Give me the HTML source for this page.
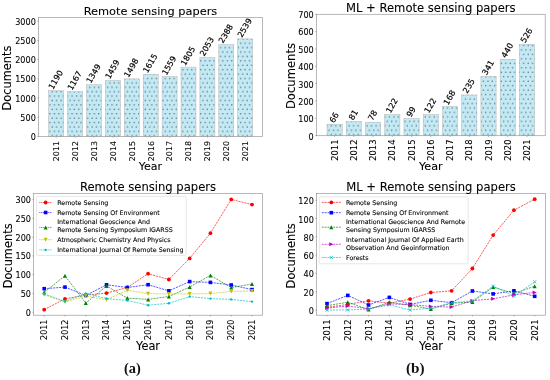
<!DOCTYPE html>
<html><head><meta charset="utf-8"><title>Figure</title>
<style>html,body{margin:0;padding:0;background:#fff}svg{display:block}</style></head><body>
<svg width="550" height="380" viewBox="0 0 550 380" font-family="DejaVu Sans, Liberation Sans, sans-serif">
<rect width="550" height="380" fill="#fff"/>
<defs>
<pattern id="hatch0" x="51.09" y="89.5" width="4.433" height="8.81" patternUnits="userSpaceOnUse"><circle cx="1.108" cy="2.203" r="0.75" fill="#5a717a"/><circle cx="3.325" cy="6.607" r="0.75" fill="#5a717a"/></pattern>
<pattern id="hatch1" x="522.58" y="43.27" width="4.475" height="8.922" patternUnits="userSpaceOnUse"><circle cx="1.119" cy="2.231" r="0.75" fill="#5a717a"/><circle cx="3.356" cy="6.692" r="0.75" fill="#5a717a"/></pattern>
</defs>
<rect x="48.70" y="90.74" width="15.00" height="45.76" fill="#c2e9f4"/>
<rect x="48.70" y="90.74" width="15.00" height="45.76" fill="url(#hatch0)" stroke="#b4b4b4" stroke-width="0.5"/>
<text x="53.03" y="89.91" font-size="8.0" text-anchor="start" fill="#000" stroke="#000" stroke-width="0.18" transform="rotate(-60 53.03 89.91)">1190</text>
<line x1="56.20" y1="136.50" x2="56.20" y2="137.60" stroke="#555" stroke-width="0.5"/>
<text x="59.06" y="141.00" font-size="7.95" text-anchor="end" fill="#000" stroke="#000" stroke-width="0.08" transform="rotate(-90 59.06 141.00)">2011</text>
<rect x="67.60" y="91.63" width="15.00" height="44.87" fill="#c2e9f4"/>
<rect x="67.60" y="91.63" width="15.00" height="44.87" fill="url(#hatch0)" stroke="#b4b4b4" stroke-width="0.5"/>
<text x="71.93" y="90.80" font-size="8.0" text-anchor="start" fill="#000" stroke="#000" stroke-width="0.18" transform="rotate(-60 71.93 90.80)">1167</text>
<line x1="75.10" y1="136.50" x2="75.10" y2="137.60" stroke="#555" stroke-width="0.5"/>
<text x="77.96" y="141.00" font-size="7.95" text-anchor="end" fill="#000" stroke="#000" stroke-width="0.08" transform="rotate(-90 77.96 141.00)">2012</text>
<rect x="86.50" y="84.63" width="15.00" height="51.87" fill="#c2e9f4"/>
<rect x="86.50" y="84.63" width="15.00" height="51.87" fill="url(#hatch0)" stroke="#b4b4b4" stroke-width="0.5"/>
<text x="90.83" y="83.80" font-size="8.0" text-anchor="start" fill="#000" stroke="#000" stroke-width="0.18" transform="rotate(-60 90.83 83.80)">1349</text>
<line x1="94.00" y1="136.50" x2="94.00" y2="137.60" stroke="#555" stroke-width="0.5"/>
<text x="96.86" y="141.00" font-size="7.95" text-anchor="end" fill="#000" stroke="#000" stroke-width="0.08" transform="rotate(-90 96.86 141.00)">2013</text>
<rect x="105.40" y="80.40" width="15.00" height="56.10" fill="#c2e9f4"/>
<rect x="105.40" y="80.40" width="15.00" height="56.10" fill="url(#hatch0)" stroke="#b4b4b4" stroke-width="0.5"/>
<text x="109.73" y="79.57" font-size="8.0" text-anchor="start" fill="#000" stroke="#000" stroke-width="0.18" transform="rotate(-60 109.73 79.57)">1459</text>
<line x1="112.90" y1="136.50" x2="112.90" y2="137.60" stroke="#555" stroke-width="0.5"/>
<text x="115.76" y="141.00" font-size="7.95" text-anchor="end" fill="#000" stroke="#000" stroke-width="0.08" transform="rotate(-90 115.76 141.00)">2014</text>
<rect x="124.30" y="78.90" width="15.00" height="57.60" fill="#c2e9f4"/>
<rect x="124.30" y="78.90" width="15.00" height="57.60" fill="url(#hatch0)" stroke="#b4b4b4" stroke-width="0.5"/>
<text x="128.63" y="78.07" font-size="8.0" text-anchor="start" fill="#000" stroke="#000" stroke-width="0.18" transform="rotate(-60 128.63 78.07)">1498</text>
<line x1="131.80" y1="136.50" x2="131.80" y2="137.60" stroke="#555" stroke-width="0.5"/>
<text x="134.66" y="141.00" font-size="7.95" text-anchor="end" fill="#000" stroke="#000" stroke-width="0.08" transform="rotate(-90 134.66 141.00)">2015</text>
<rect x="143.20" y="74.40" width="15.00" height="62.10" fill="#c2e9f4"/>
<rect x="143.20" y="74.40" width="15.00" height="62.10" fill="url(#hatch0)" stroke="#b4b4b4" stroke-width="0.5"/>
<text x="147.53" y="73.57" font-size="8.0" text-anchor="start" fill="#000" stroke="#000" stroke-width="0.18" transform="rotate(-60 147.53 73.57)">1615</text>
<line x1="150.70" y1="136.50" x2="150.70" y2="137.60" stroke="#555" stroke-width="0.5"/>
<text x="153.56" y="141.00" font-size="7.95" text-anchor="end" fill="#000" stroke="#000" stroke-width="0.08" transform="rotate(-90 153.56 141.00)">2016</text>
<rect x="162.10" y="76.56" width="15.00" height="59.94" fill="#c2e9f4"/>
<rect x="162.10" y="76.56" width="15.00" height="59.94" fill="url(#hatch0)" stroke="#b4b4b4" stroke-width="0.5"/>
<text x="166.43" y="75.72" font-size="8.0" text-anchor="start" fill="#000" stroke="#000" stroke-width="0.18" transform="rotate(-60 166.43 75.72)">1559</text>
<line x1="169.60" y1="136.50" x2="169.60" y2="137.60" stroke="#555" stroke-width="0.5"/>
<text x="172.46" y="141.00" font-size="7.95" text-anchor="end" fill="#000" stroke="#000" stroke-width="0.08" transform="rotate(-90 172.46 141.00)">2017</text>
<rect x="181.00" y="67.10" width="15.00" height="69.40" fill="#c2e9f4"/>
<rect x="181.00" y="67.10" width="15.00" height="69.40" fill="url(#hatch0)" stroke="#b4b4b4" stroke-width="0.5"/>
<text x="185.33" y="66.27" font-size="8.0" text-anchor="start" fill="#000" stroke="#000" stroke-width="0.18" transform="rotate(-60 185.33 66.27)">1805</text>
<line x1="188.50" y1="136.50" x2="188.50" y2="137.60" stroke="#555" stroke-width="0.5"/>
<text x="191.36" y="141.00" font-size="7.95" text-anchor="end" fill="#000" stroke="#000" stroke-width="0.08" transform="rotate(-90 191.36 141.00)">2018</text>
<rect x="199.90" y="57.56" width="15.00" height="78.94" fill="#c2e9f4"/>
<rect x="199.90" y="57.56" width="15.00" height="78.94" fill="url(#hatch0)" stroke="#b4b4b4" stroke-width="0.5"/>
<text x="204.23" y="56.73" font-size="8.0" text-anchor="start" fill="#000" stroke="#000" stroke-width="0.18" transform="rotate(-60 204.23 56.73)">2053</text>
<line x1="207.40" y1="136.50" x2="207.40" y2="137.60" stroke="#555" stroke-width="0.5"/>
<text x="210.26" y="141.00" font-size="7.95" text-anchor="end" fill="#000" stroke="#000" stroke-width="0.08" transform="rotate(-90 210.26 141.00)">2019</text>
<rect x="218.80" y="44.68" width="15.00" height="91.82" fill="#c2e9f4"/>
<rect x="218.80" y="44.68" width="15.00" height="91.82" fill="url(#hatch0)" stroke="#b4b4b4" stroke-width="0.5"/>
<text x="223.13" y="43.85" font-size="8.0" text-anchor="start" fill="#000" stroke="#000" stroke-width="0.18" transform="rotate(-60 223.13 43.85)">2388</text>
<line x1="226.30" y1="136.50" x2="226.30" y2="137.60" stroke="#555" stroke-width="0.5"/>
<text x="229.16" y="141.00" font-size="7.95" text-anchor="end" fill="#000" stroke="#000" stroke-width="0.08" transform="rotate(-90 229.16 141.00)">2020</text>
<rect x="237.70" y="38.88" width="15.00" height="97.62" fill="#c2e9f4"/>
<rect x="237.70" y="38.88" width="15.00" height="97.62" fill="url(#hatch0)" stroke="#b4b4b4" stroke-width="0.5"/>
<text x="242.03" y="38.04" font-size="8.0" text-anchor="start" fill="#000" stroke="#000" stroke-width="0.18" transform="rotate(-60 242.03 38.04)">2539</text>
<line x1="245.20" y1="136.50" x2="245.20" y2="137.60" stroke="#555" stroke-width="0.5"/>
<text x="248.06" y="141.00" font-size="7.95" text-anchor="end" fill="#000" stroke="#000" stroke-width="0.08" transform="rotate(-90 248.06 141.00)">2021</text>
<rect x="38.60" y="17.50" width="223.80" height="119.00" fill="none" stroke="#9a9a9a" stroke-width="0.7"/>
<line x1="37.50" y1="136.50" x2="38.60" y2="136.50" stroke="#555" stroke-width="0.5"/>
<text x="35.80" y="140.16" font-size="8.1" text-anchor="end" fill="#000" stroke="#000" stroke-width="0.08">0</text>
<line x1="37.50" y1="117.28" x2="38.60" y2="117.28" stroke="#555" stroke-width="0.5"/>
<text x="35.80" y="120.93" font-size="8.1" text-anchor="end" fill="#000" stroke="#000" stroke-width="0.08">500</text>
<line x1="37.50" y1="98.05" x2="38.60" y2="98.05" stroke="#555" stroke-width="0.5"/>
<text x="35.80" y="101.71" font-size="8.1" text-anchor="end" fill="#000" stroke="#000" stroke-width="0.08">1000</text>
<line x1="37.50" y1="78.83" x2="38.60" y2="78.83" stroke="#555" stroke-width="0.5"/>
<text x="35.80" y="82.48" font-size="8.1" text-anchor="end" fill="#000" stroke="#000" stroke-width="0.08">1500</text>
<line x1="37.50" y1="59.60" x2="38.60" y2="59.60" stroke="#555" stroke-width="0.5"/>
<text x="35.80" y="63.26" font-size="8.1" text-anchor="end" fill="#000" stroke="#000" stroke-width="0.08">2000</text>
<line x1="37.50" y1="40.38" x2="38.60" y2="40.38" stroke="#555" stroke-width="0.5"/>
<text x="35.80" y="44.03" font-size="8.1" text-anchor="end" fill="#000" stroke="#000" stroke-width="0.08">2500</text>
<line x1="37.50" y1="21.15" x2="38.60" y2="21.15" stroke="#555" stroke-width="0.5"/>
<text x="35.80" y="24.81" font-size="8.1" text-anchor="end" fill="#000" stroke="#000" stroke-width="0.08">3000</text>
<text x="150.50" y="15.00" font-size="11.37" text-anchor="middle" fill="#000" stroke="#000" stroke-width="0.08">Remote sensing papers</text>
<text x="150.50" y="169.90" font-size="11.0" text-anchor="middle" fill="#000" stroke="#000" stroke-width="0.08">Year</text>
<text x="11.10" y="78.00" font-size="11.4" text-anchor="middle" fill="#000" stroke="#000" stroke-width="0.08" transform="rotate(-90 11.10 78.00)">Documents</text>
<rect x="327.00" y="124.25" width="15.20" height="11.45" fill="#c2e9f4"/>
<rect x="327.00" y="124.25" width="15.20" height="11.45" fill="url(#hatch1)" stroke="#b4b4b4" stroke-width="0.5"/>
<text x="333.96" y="123.40" font-size="8.15" text-anchor="start" fill="#000" stroke="#000" stroke-width="0.18" transform="rotate(-60 333.96 123.40)">66</text>
<line x1="334.60" y1="135.70" x2="334.60" y2="136.80" stroke="#555" stroke-width="0.5"/>
<text x="337.62" y="139.50" font-size="8.4" text-anchor="end" fill="#000" stroke="#000" stroke-width="0.08" transform="rotate(-90 337.62 139.50)">2011</text>
<rect x="346.24" y="121.65" width="15.20" height="14.05" fill="#c2e9f4"/>
<rect x="346.24" y="121.65" width="15.20" height="14.05" fill="url(#hatch1)" stroke="#b4b4b4" stroke-width="0.5"/>
<text x="353.20" y="120.80" font-size="8.15" text-anchor="start" fill="#000" stroke="#000" stroke-width="0.18" transform="rotate(-60 353.20 120.80)">81</text>
<line x1="353.84" y1="135.70" x2="353.84" y2="136.80" stroke="#555" stroke-width="0.5"/>
<text x="356.86" y="139.50" font-size="8.4" text-anchor="end" fill="#000" stroke="#000" stroke-width="0.08" transform="rotate(-90 356.86 139.50)">2012</text>
<rect x="365.48" y="122.17" width="15.20" height="13.53" fill="#c2e9f4"/>
<rect x="365.48" y="122.17" width="15.20" height="13.53" fill="url(#hatch1)" stroke="#b4b4b4" stroke-width="0.5"/>
<text x="372.44" y="121.32" font-size="8.15" text-anchor="start" fill="#000" stroke="#000" stroke-width="0.18" transform="rotate(-60 372.44 121.32)">78</text>
<line x1="373.08" y1="135.70" x2="373.08" y2="136.80" stroke="#555" stroke-width="0.5"/>
<text x="376.10" y="139.50" font-size="8.4" text-anchor="end" fill="#000" stroke="#000" stroke-width="0.08" transform="rotate(-90 376.10 139.50)">2013</text>
<rect x="384.72" y="114.53" width="15.20" height="21.17" fill="#c2e9f4"/>
<rect x="384.72" y="114.53" width="15.20" height="21.17" fill="url(#hatch1)" stroke="#b4b4b4" stroke-width="0.5"/>
<text x="390.39" y="113.69" font-size="8.15" text-anchor="start" fill="#000" stroke="#000" stroke-width="0.18" transform="rotate(-60 390.39 113.69)">122</text>
<line x1="392.32" y1="135.70" x2="392.32" y2="136.80" stroke="#555" stroke-width="0.5"/>
<text x="395.34" y="139.50" font-size="8.4" text-anchor="end" fill="#000" stroke="#000" stroke-width="0.08" transform="rotate(-90 395.34 139.50)">2014</text>
<rect x="403.96" y="118.52" width="15.20" height="17.18" fill="#c2e9f4"/>
<rect x="403.96" y="118.52" width="15.20" height="17.18" fill="url(#hatch1)" stroke="#b4b4b4" stroke-width="0.5"/>
<text x="410.92" y="117.68" font-size="8.15" text-anchor="start" fill="#000" stroke="#000" stroke-width="0.18" transform="rotate(-60 410.92 117.68)">99</text>
<line x1="411.56" y1="135.70" x2="411.56" y2="136.80" stroke="#555" stroke-width="0.5"/>
<text x="414.58" y="139.50" font-size="8.4" text-anchor="end" fill="#000" stroke="#000" stroke-width="0.08" transform="rotate(-90 414.58 139.50)">2015</text>
<rect x="423.20" y="114.53" width="15.20" height="21.17" fill="#c2e9f4"/>
<rect x="423.20" y="114.53" width="15.20" height="21.17" fill="url(#hatch1)" stroke="#b4b4b4" stroke-width="0.5"/>
<text x="428.87" y="113.69" font-size="8.15" text-anchor="start" fill="#000" stroke="#000" stroke-width="0.18" transform="rotate(-60 428.87 113.69)">122</text>
<line x1="430.80" y1="135.70" x2="430.80" y2="136.80" stroke="#555" stroke-width="0.5"/>
<text x="433.82" y="139.50" font-size="8.4" text-anchor="end" fill="#000" stroke="#000" stroke-width="0.08" transform="rotate(-90 433.82 139.50)">2016</text>
<rect x="442.44" y="106.55" width="15.20" height="29.15" fill="#c2e9f4"/>
<rect x="442.44" y="106.55" width="15.20" height="29.15" fill="url(#hatch1)" stroke="#b4b4b4" stroke-width="0.5"/>
<text x="448.11" y="105.70" font-size="8.15" text-anchor="start" fill="#000" stroke="#000" stroke-width="0.18" transform="rotate(-60 448.11 105.70)">168</text>
<line x1="450.04" y1="135.70" x2="450.04" y2="136.80" stroke="#555" stroke-width="0.5"/>
<text x="453.06" y="139.50" font-size="8.4" text-anchor="end" fill="#000" stroke="#000" stroke-width="0.08" transform="rotate(-90 453.06 139.50)">2017</text>
<rect x="461.68" y="94.93" width="15.20" height="40.77" fill="#c2e9f4"/>
<rect x="461.68" y="94.93" width="15.20" height="40.77" fill="url(#hatch1)" stroke="#b4b4b4" stroke-width="0.5"/>
<text x="467.35" y="94.08" font-size="8.15" text-anchor="start" fill="#000" stroke="#000" stroke-width="0.18" transform="rotate(-60 467.35 94.08)">235</text>
<line x1="469.28" y1="135.70" x2="469.28" y2="136.80" stroke="#555" stroke-width="0.5"/>
<text x="472.30" y="139.50" font-size="8.4" text-anchor="end" fill="#000" stroke="#000" stroke-width="0.08" transform="rotate(-90 472.30 139.50)">2018</text>
<rect x="480.92" y="76.54" width="15.20" height="59.16" fill="#c2e9f4"/>
<rect x="480.92" y="76.54" width="15.20" height="59.16" fill="url(#hatch1)" stroke="#b4b4b4" stroke-width="0.5"/>
<text x="486.59" y="75.69" font-size="8.15" text-anchor="start" fill="#000" stroke="#000" stroke-width="0.18" transform="rotate(-60 486.59 75.69)">341</text>
<line x1="488.52" y1="135.70" x2="488.52" y2="136.80" stroke="#555" stroke-width="0.5"/>
<text x="491.54" y="139.50" font-size="8.4" text-anchor="end" fill="#000" stroke="#000" stroke-width="0.08" transform="rotate(-90 491.54 139.50)">2019</text>
<rect x="500.16" y="59.36" width="15.20" height="76.34" fill="#c2e9f4"/>
<rect x="500.16" y="59.36" width="15.20" height="76.34" fill="url(#hatch1)" stroke="#b4b4b4" stroke-width="0.5"/>
<text x="505.83" y="58.51" font-size="8.15" text-anchor="start" fill="#000" stroke="#000" stroke-width="0.18" transform="rotate(-60 505.83 58.51)">440</text>
<line x1="507.76" y1="135.70" x2="507.76" y2="136.80" stroke="#555" stroke-width="0.5"/>
<text x="510.78" y="139.50" font-size="8.4" text-anchor="end" fill="#000" stroke="#000" stroke-width="0.08" transform="rotate(-90 510.78 139.50)">2020</text>
<rect x="519.40" y="44.44" width="15.20" height="91.26" fill="#c2e9f4"/>
<rect x="519.40" y="44.44" width="15.20" height="91.26" fill="url(#hatch1)" stroke="#b4b4b4" stroke-width="0.5"/>
<text x="525.07" y="43.59" font-size="8.15" text-anchor="start" fill="#000" stroke="#000" stroke-width="0.18" transform="rotate(-60 525.07 43.59)">526</text>
<line x1="527.00" y1="135.70" x2="527.00" y2="136.80" stroke="#555" stroke-width="0.5"/>
<text x="530.02" y="139.50" font-size="8.4" text-anchor="end" fill="#000" stroke="#000" stroke-width="0.08" transform="rotate(-90 530.02 139.50)">2021</text>
<rect x="316.40" y="14.30" width="228.80" height="121.40" fill="none" stroke="#9a9a9a" stroke-width="0.7"/>
<line x1="315.30" y1="135.70" x2="316.40" y2="135.70" stroke="#555" stroke-width="0.5"/>
<text x="313.70" y="139.56" font-size="8.1" text-anchor="end" fill="#000" stroke="#000" stroke-width="0.08">0</text>
<line x1="315.30" y1="118.35" x2="316.40" y2="118.35" stroke="#555" stroke-width="0.5"/>
<text x="313.70" y="122.21" font-size="8.1" text-anchor="end" fill="#000" stroke="#000" stroke-width="0.08">100</text>
<line x1="315.30" y1="101.00" x2="316.40" y2="101.00" stroke="#555" stroke-width="0.5"/>
<text x="313.70" y="104.86" font-size="8.1" text-anchor="end" fill="#000" stroke="#000" stroke-width="0.08">200</text>
<line x1="315.30" y1="83.65" x2="316.40" y2="83.65" stroke="#555" stroke-width="0.5"/>
<text x="313.70" y="87.51" font-size="8.1" text-anchor="end" fill="#000" stroke="#000" stroke-width="0.08">300</text>
<line x1="315.30" y1="66.30" x2="316.40" y2="66.30" stroke="#555" stroke-width="0.5"/>
<text x="313.70" y="70.16" font-size="8.1" text-anchor="end" fill="#000" stroke="#000" stroke-width="0.08">400</text>
<line x1="315.30" y1="48.95" x2="316.40" y2="48.95" stroke="#555" stroke-width="0.5"/>
<text x="313.70" y="52.81" font-size="8.1" text-anchor="end" fill="#000" stroke="#000" stroke-width="0.08">500</text>
<line x1="315.30" y1="31.60" x2="316.40" y2="31.60" stroke="#555" stroke-width="0.5"/>
<text x="313.70" y="35.46" font-size="8.1" text-anchor="end" fill="#000" stroke="#000" stroke-width="0.08">600</text>
<line x1="315.30" y1="14.25" x2="316.40" y2="14.25" stroke="#555" stroke-width="0.5"/>
<text x="313.70" y="18.11" font-size="8.1" text-anchor="end" fill="#000" stroke="#000" stroke-width="0.08">700</text>
<text x="430.80" y="11.60" font-size="11.58" text-anchor="middle" fill="#000" stroke="#000" stroke-width="0.08">ML + Remote sensing papers</text>
<text x="430.80" y="169.90" font-size="11.2" text-anchor="middle" fill="#000" stroke="#000" stroke-width="0.08">Year</text>
<text x="294.60" y="76.00" font-size="11.6" text-anchor="middle" fill="#000" stroke="#000" stroke-width="0.08" transform="rotate(-90 294.60 76.00)">Documents</text>
<polyline points="44.20,309.70 64.98,298.80 85.76,295.10 106.54,293.10 127.32,287.50 148.10,273.70 168.88,279.50 189.66,258.40 210.44,233.20 231.22,199.40 252.00,204.60" fill="none" stroke="#ff0000" stroke-width="0.65" stroke-dasharray="2.1 0.9"/>
<circle cx="44.20" cy="309.70" r="1.90" fill="#ff0000"/>
<circle cx="64.98" cy="298.80" r="1.90" fill="#ff0000"/>
<circle cx="85.76" cy="295.10" r="1.90" fill="#ff0000"/>
<circle cx="106.54" cy="293.10" r="1.90" fill="#ff0000"/>
<circle cx="127.32" cy="287.50" r="1.90" fill="#ff0000"/>
<circle cx="148.10" cy="273.70" r="1.90" fill="#ff0000"/>
<circle cx="168.88" cy="279.50" r="1.90" fill="#ff0000"/>
<circle cx="189.66" cy="258.40" r="1.90" fill="#ff0000"/>
<circle cx="210.44" cy="233.20" r="1.90" fill="#ff0000"/>
<circle cx="231.22" cy="199.40" r="1.90" fill="#ff0000"/>
<circle cx="252.00" cy="204.60" r="1.90" fill="#ff0000"/>
<polyline points="44.20,288.70 64.98,287.10 85.76,295.50 106.54,284.80 127.32,287.50 148.10,284.70 168.88,290.80 189.66,281.60 210.44,282.40 231.22,285.00 252.00,289.60" fill="none" stroke="#0000ff" stroke-width="0.65" stroke-dasharray="2.1 0.9"/>
<rect x="42.40" y="286.90" width="3.60" height="3.60" fill="#0000ff"/>
<rect x="63.18" y="285.30" width="3.60" height="3.60" fill="#0000ff"/>
<rect x="83.96" y="293.70" width="3.60" height="3.60" fill="#0000ff"/>
<rect x="104.74" y="283.00" width="3.60" height="3.60" fill="#0000ff"/>
<rect x="125.52" y="285.70" width="3.60" height="3.60" fill="#0000ff"/>
<rect x="146.30" y="282.90" width="3.60" height="3.60" fill="#0000ff"/>
<rect x="167.08" y="289.00" width="3.60" height="3.60" fill="#0000ff"/>
<rect x="187.86" y="279.80" width="3.60" height="3.60" fill="#0000ff"/>
<rect x="208.64" y="280.60" width="3.60" height="3.60" fill="#0000ff"/>
<rect x="229.42" y="283.20" width="3.60" height="3.60" fill="#0000ff"/>
<rect x="250.20" y="287.80" width="3.60" height="3.60" fill="#0000ff"/>
<polyline points="44.20,292.30 64.98,275.80 85.76,303.10 106.54,286.00 127.32,298.10 148.10,299.40 168.88,296.50 189.66,287.00 210.44,275.40 231.22,287.60 252.00,284.00" fill="none" stroke="#008000" stroke-width="0.65" stroke-dasharray="2.1 0.9"/>
<polygon points="44.20,290.30 46.20,294.30 42.20,294.30" fill="#008000"/>
<polygon points="64.98,273.80 66.98,277.80 62.98,277.80" fill="#008000"/>
<polygon points="85.76,301.10 87.76,305.10 83.76,305.10" fill="#008000"/>
<polygon points="106.54,284.00 108.54,288.00 104.54,288.00" fill="#008000"/>
<polygon points="127.32,296.10 129.32,300.10 125.32,300.10" fill="#008000"/>
<polygon points="148.10,297.40 150.10,301.40 146.10,301.40" fill="#008000"/>
<polygon points="168.88,294.50 170.88,298.50 166.88,298.50" fill="#008000"/>
<polygon points="189.66,285.00 191.66,289.00 187.66,289.00" fill="#008000"/>
<polygon points="210.44,273.40 212.44,277.40 208.44,277.40" fill="#008000"/>
<polygon points="231.22,285.60 233.22,289.60 229.22,289.60" fill="#008000"/>
<polygon points="252.00,282.00 254.00,286.00 250.00,286.00" fill="#008000"/>
<polyline points="44.20,294.70 64.98,302.10 85.76,296.00 106.54,299.70 127.32,290.20 148.10,293.70 168.88,293.90 189.66,294.00 210.44,293.60 231.22,291.40 252.00,291.00" fill="none" stroke="#bfbf00" stroke-width="0.65" stroke-dasharray="2.1 0.9"/>
<polygon points="44.20,296.70 46.20,292.70 42.20,292.70" fill="#bfbf00"/>
<polygon points="64.98,304.10 66.98,300.10 62.98,300.10" fill="#bfbf00"/>
<polygon points="85.76,298.00 87.76,294.00 83.76,294.00" fill="#bfbf00"/>
<polygon points="106.54,301.70 108.54,297.70 104.54,297.70" fill="#bfbf00"/>
<polygon points="127.32,292.20 129.32,288.20 125.32,288.20" fill="#bfbf00"/>
<polygon points="148.10,295.70 150.10,291.70 146.10,291.70" fill="#bfbf00"/>
<polygon points="168.88,295.90 170.88,291.90 166.88,291.90" fill="#bfbf00"/>
<polygon points="189.66,296.00 191.66,292.00 187.66,292.00" fill="#bfbf00"/>
<polygon points="210.44,295.60 212.44,291.60 208.44,291.60" fill="#bfbf00"/>
<polygon points="231.22,293.40 233.22,289.40 229.22,289.40" fill="#bfbf00"/>
<polygon points="252.00,293.00 254.00,289.00 250.00,289.00" fill="#bfbf00"/>
<polyline points="44.20,293.90 64.98,301.30 85.76,293.40 106.54,298.60 127.32,300.50 148.10,305.20 168.88,303.30 189.66,296.60 210.44,298.60 231.22,299.40 252.00,301.60" fill="none" stroke="#00bfbf" stroke-width="0.65" stroke-dasharray="2.1 0.9"/>
<circle cx="44.20" cy="293.90" r="1.20" fill="#00bfbf"/>
<circle cx="64.98" cy="301.30" r="1.20" fill="#00bfbf"/>
<circle cx="85.76" cy="293.40" r="1.20" fill="#00bfbf"/>
<circle cx="106.54" cy="298.60" r="1.20" fill="#00bfbf"/>
<circle cx="127.32" cy="300.50" r="1.20" fill="#00bfbf"/>
<circle cx="148.10" cy="305.20" r="1.20" fill="#00bfbf"/>
<circle cx="168.88" cy="303.30" r="1.20" fill="#00bfbf"/>
<circle cx="189.66" cy="296.60" r="1.20" fill="#00bfbf"/>
<circle cx="210.44" cy="298.60" r="1.20" fill="#00bfbf"/>
<circle cx="231.22" cy="299.40" r="1.20" fill="#00bfbf"/>
<circle cx="252.00" cy="301.60" r="1.20" fill="#00bfbf"/>
<rect x="33.60" y="193.60" width="228.80" height="121.60" fill="none" stroke="#9a9a9a" stroke-width="0.7"/>
<line x1="44.20" y1="315.20" x2="44.20" y2="316.30" stroke="#555" stroke-width="0.5"/>
<text x="47.10" y="319.50" font-size="8.05" text-anchor="end" fill="#000" stroke="#000" stroke-width="0.08" transform="rotate(-90 47.10 319.50)">2011</text>
<line x1="64.98" y1="315.20" x2="64.98" y2="316.30" stroke="#555" stroke-width="0.5"/>
<text x="67.88" y="319.50" font-size="8.05" text-anchor="end" fill="#000" stroke="#000" stroke-width="0.08" transform="rotate(-90 67.88 319.50)">2012</text>
<line x1="85.76" y1="315.20" x2="85.76" y2="316.30" stroke="#555" stroke-width="0.5"/>
<text x="88.66" y="319.50" font-size="8.05" text-anchor="end" fill="#000" stroke="#000" stroke-width="0.08" transform="rotate(-90 88.66 319.50)">2013</text>
<line x1="106.54" y1="315.20" x2="106.54" y2="316.30" stroke="#555" stroke-width="0.5"/>
<text x="109.44" y="319.50" font-size="8.05" text-anchor="end" fill="#000" stroke="#000" stroke-width="0.08" transform="rotate(-90 109.44 319.50)">2014</text>
<line x1="127.32" y1="315.20" x2="127.32" y2="316.30" stroke="#555" stroke-width="0.5"/>
<text x="130.22" y="319.50" font-size="8.05" text-anchor="end" fill="#000" stroke="#000" stroke-width="0.08" transform="rotate(-90 130.22 319.50)">2015</text>
<line x1="148.10" y1="315.20" x2="148.10" y2="316.30" stroke="#555" stroke-width="0.5"/>
<text x="151.00" y="319.50" font-size="8.05" text-anchor="end" fill="#000" stroke="#000" stroke-width="0.08" transform="rotate(-90 151.00 319.50)">2016</text>
<line x1="168.88" y1="315.20" x2="168.88" y2="316.30" stroke="#555" stroke-width="0.5"/>
<text x="171.78" y="319.50" font-size="8.05" text-anchor="end" fill="#000" stroke="#000" stroke-width="0.08" transform="rotate(-90 171.78 319.50)">2017</text>
<line x1="189.66" y1="315.20" x2="189.66" y2="316.30" stroke="#555" stroke-width="0.5"/>
<text x="192.56" y="319.50" font-size="8.05" text-anchor="end" fill="#000" stroke="#000" stroke-width="0.08" transform="rotate(-90 192.56 319.50)">2018</text>
<line x1="210.44" y1="315.20" x2="210.44" y2="316.30" stroke="#555" stroke-width="0.5"/>
<text x="213.34" y="319.50" font-size="8.05" text-anchor="end" fill="#000" stroke="#000" stroke-width="0.08" transform="rotate(-90 213.34 319.50)">2019</text>
<line x1="231.22" y1="315.20" x2="231.22" y2="316.30" stroke="#555" stroke-width="0.5"/>
<text x="234.12" y="319.50" font-size="8.05" text-anchor="end" fill="#000" stroke="#000" stroke-width="0.08" transform="rotate(-90 234.12 319.50)">2020</text>
<line x1="252.00" y1="315.20" x2="252.00" y2="316.30" stroke="#555" stroke-width="0.5"/>
<text x="254.90" y="319.50" font-size="8.05" text-anchor="end" fill="#000" stroke="#000" stroke-width="0.08" transform="rotate(-90 254.90 319.50)">2021</text>
<line x1="32.50" y1="312.20" x2="33.60" y2="312.20" stroke="#555" stroke-width="0.5"/>
<text x="30.90" y="315.64" font-size="8.05" text-anchor="end" fill="#000" stroke="#000" stroke-width="0.08">0</text>
<line x1="32.50" y1="293.44" x2="33.60" y2="293.44" stroke="#555" stroke-width="0.5"/>
<text x="30.90" y="296.87" font-size="8.05" text-anchor="end" fill="#000" stroke="#000" stroke-width="0.08">50</text>
<line x1="32.50" y1="274.67" x2="33.60" y2="274.67" stroke="#555" stroke-width="0.5"/>
<text x="30.90" y="278.11" font-size="8.05" text-anchor="end" fill="#000" stroke="#000" stroke-width="0.08">100</text>
<line x1="32.50" y1="255.90" x2="33.60" y2="255.90" stroke="#555" stroke-width="0.5"/>
<text x="30.90" y="259.34" font-size="8.05" text-anchor="end" fill="#000" stroke="#000" stroke-width="0.08">150</text>
<line x1="32.50" y1="237.14" x2="33.60" y2="237.14" stroke="#555" stroke-width="0.5"/>
<text x="30.90" y="240.58" font-size="8.05" text-anchor="end" fill="#000" stroke="#000" stroke-width="0.08">200</text>
<line x1="32.50" y1="218.38" x2="33.60" y2="218.38" stroke="#555" stroke-width="0.5"/>
<text x="30.90" y="221.81" font-size="8.05" text-anchor="end" fill="#000" stroke="#000" stroke-width="0.08">250</text>
<line x1="32.50" y1="199.61" x2="33.60" y2="199.61" stroke="#555" stroke-width="0.5"/>
<text x="30.90" y="203.05" font-size="8.05" text-anchor="end" fill="#000" stroke="#000" stroke-width="0.08">300</text>
<text x="148.00" y="191.10" font-size="11.58" text-anchor="middle" fill="#000" stroke="#000" stroke-width="0.08">Remote sensing papers</text>
<text x="148.00" y="349.60" font-size="11.4" text-anchor="middle" fill="#000" stroke="#000" stroke-width="0.08">Year</text>
<text x="12.00" y="255.90" font-size="11.4" text-anchor="middle" fill="#000" stroke="#000" stroke-width="0.08" transform="rotate(-90 12.00 255.90)">Documents</text>
<rect x="36.40" y="196.30" width="149.80" height="59.10" rx="1.5" fill="#fff" fill-opacity="0.8" stroke="#dcdcdc" stroke-width="0.7"/>
<line x1="39.30" y1="202.50" x2="52.00" y2="202.50" stroke="#ff0000" stroke-width="0.65" stroke-dasharray="1.15 0.6"/>
<circle cx="45.65" cy="202.50" r="1.90" fill="#ff0000"/>
<text x="57.20" y="204.70" font-size="6.3" text-anchor="start" fill="#000" stroke="#000" stroke-width="0.1">Remote Sensing</text>
<line x1="39.30" y1="212.50" x2="52.00" y2="212.50" stroke="#0000ff" stroke-width="0.65" stroke-dasharray="1.15 0.6"/>
<rect x="43.85" y="210.70" width="3.60" height="3.60" fill="#0000ff"/>
<text x="57.20" y="214.60" font-size="6.3" text-anchor="start" fill="#000" stroke="#000" stroke-width="0.1">Remote Sensing Of Environment</text>
<line x1="39.30" y1="227.40" x2="52.00" y2="227.40" stroke="#008000" stroke-width="0.65" stroke-dasharray="1.15 0.6"/>
<polygon points="45.65,225.40 47.65,229.40 43.65,229.40" fill="#008000"/>
<text x="57.20" y="224.40" font-size="6.3" text-anchor="start" fill="#000" stroke="#000" stroke-width="0.1">International Geoscience And</text>
<text x="57.20" y="231.70" font-size="6.3" text-anchor="start" fill="#000" stroke="#000" stroke-width="0.1">Remote Sensing Symposium IGARSS</text>
<line x1="39.30" y1="239.70" x2="52.00" y2="239.70" stroke="#bfbf00" stroke-width="0.65" stroke-dasharray="1.15 0.6"/>
<polygon points="45.65,241.70 47.65,237.70 43.65,237.70" fill="#bfbf00"/>
<text x="57.20" y="241.90" font-size="6.3" text-anchor="start" fill="#000" stroke="#000" stroke-width="0.1">Atmospheric Chemistry And Physics</text>
<line x1="39.30" y1="249.90" x2="52.00" y2="249.90" stroke="#00bfbf" stroke-width="0.65" stroke-dasharray="1.15 0.6"/>
<circle cx="45.65" cy="249.90" r="1.20" fill="#00bfbf"/>
<text x="57.20" y="251.60" font-size="6.3" text-anchor="start" fill="#000" stroke="#000" stroke-width="0.1">International Journal Of Remote Sensing</text>
<polyline points="327.00,307.40 347.77,304.40 368.54,300.80 389.31,303.20 410.08,299.10 430.85,292.50 451.62,290.80 472.39,268.50 493.16,235.10 513.93,210.20 534.70,199.20" fill="none" stroke="#ff0000" stroke-width="0.65" stroke-dasharray="2.1 0.9"/>
<circle cx="327.00" cy="307.40" r="1.90" fill="#ff0000"/>
<circle cx="347.77" cy="304.40" r="1.90" fill="#ff0000"/>
<circle cx="368.54" cy="300.80" r="1.90" fill="#ff0000"/>
<circle cx="389.31" cy="303.20" r="1.90" fill="#ff0000"/>
<circle cx="410.08" cy="299.10" r="1.90" fill="#ff0000"/>
<circle cx="430.85" cy="292.50" r="1.90" fill="#ff0000"/>
<circle cx="451.62" cy="290.80" r="1.90" fill="#ff0000"/>
<circle cx="472.39" cy="268.50" r="1.90" fill="#ff0000"/>
<circle cx="493.16" cy="235.10" r="1.90" fill="#ff0000"/>
<circle cx="513.93" cy="210.20" r="1.90" fill="#ff0000"/>
<circle cx="534.70" cy="199.20" r="1.90" fill="#ff0000"/>
<polyline points="327.00,303.60 347.77,295.40 368.54,305.00 389.31,297.40 410.08,304.40 430.85,300.30 451.62,302.70 472.39,291.00 493.16,293.90 513.93,290.80 534.70,296.30" fill="none" stroke="#0000ff" stroke-width="0.65" stroke-dasharray="2.1 0.9"/>
<rect x="325.20" y="301.80" width="3.60" height="3.60" fill="#0000ff"/>
<rect x="345.97" y="293.60" width="3.60" height="3.60" fill="#0000ff"/>
<rect x="366.74" y="303.20" width="3.60" height="3.60" fill="#0000ff"/>
<rect x="387.51" y="295.60" width="3.60" height="3.60" fill="#0000ff"/>
<rect x="408.28" y="302.60" width="3.60" height="3.60" fill="#0000ff"/>
<rect x="429.05" y="298.50" width="3.60" height="3.60" fill="#0000ff"/>
<rect x="449.82" y="300.90" width="3.60" height="3.60" fill="#0000ff"/>
<rect x="470.59" y="289.20" width="3.60" height="3.60" fill="#0000ff"/>
<rect x="491.36" y="292.10" width="3.60" height="3.60" fill="#0000ff"/>
<rect x="512.13" y="289.00" width="3.60" height="3.60" fill="#0000ff"/>
<rect x="532.90" y="294.50" width="3.60" height="3.60" fill="#0000ff"/>
<polyline points="327.00,305.70 347.77,302.20 368.54,309.50 389.31,302.30 410.08,305.20 430.85,309.00 451.62,303.20 472.39,302.10 493.16,287.00 513.93,293.50 534.70,286.20" fill="none" stroke="#008000" stroke-width="0.65" stroke-dasharray="2.1 0.9"/>
<polygon points="327.00,303.70 329.00,307.70 325.00,307.70" fill="#008000"/>
<polygon points="347.77,300.20 349.77,304.20 345.77,304.20" fill="#008000"/>
<polygon points="368.54,307.50 370.54,311.50 366.54,311.50" fill="#008000"/>
<polygon points="389.31,300.30 391.31,304.30 387.31,304.30" fill="#008000"/>
<polygon points="410.08,303.20 412.08,307.20 408.08,307.20" fill="#008000"/>
<polygon points="430.85,307.00 432.85,311.00 428.85,311.00" fill="#008000"/>
<polygon points="451.62,301.20 453.62,305.20 449.62,305.20" fill="#008000"/>
<polygon points="472.39,300.10 474.39,304.10 470.39,304.10" fill="#008000"/>
<polygon points="493.16,285.00 495.16,289.00 491.16,289.00" fill="#008000"/>
<polygon points="513.93,291.50 515.93,295.50 511.93,295.50" fill="#008000"/>
<polygon points="534.70,284.20 536.70,288.20 532.70,288.20" fill="#008000"/>
<polyline points="327.00,308.10 347.77,306.00 368.54,308.80 389.31,303.90 410.08,304.60 430.85,306.40 451.62,307.10 472.39,300.70 493.16,298.80 513.93,294.90 534.70,292.40" fill="none" stroke="#bf00bf" stroke-width="0.65" stroke-dasharray="2.1 0.9"/>
<polygon points="329.00,308.10 325.00,306.10 325.00,310.10" fill="#bf00bf"/>
<polygon points="349.77,306.00 345.77,304.00 345.77,308.00" fill="#bf00bf"/>
<polygon points="370.54,308.80 366.54,306.80 366.54,310.80" fill="#bf00bf"/>
<polygon points="391.31,303.90 387.31,301.90 387.31,305.90" fill="#bf00bf"/>
<polygon points="412.08,304.60 408.08,302.60 408.08,306.60" fill="#bf00bf"/>
<polygon points="432.85,306.40 428.85,304.40 428.85,308.40" fill="#bf00bf"/>
<polygon points="453.62,307.10 449.62,305.10 449.62,309.10" fill="#bf00bf"/>
<polygon points="474.39,300.70 470.39,298.70 470.39,302.70" fill="#bf00bf"/>
<polygon points="495.16,298.80 491.16,296.80 491.16,300.80" fill="#bf00bf"/>
<polygon points="515.93,294.90 511.93,292.90 511.93,296.90" fill="#bf00bf"/>
<polygon points="536.70,292.40 532.70,290.40 532.70,294.40" fill="#bf00bf"/>
<polyline points="327.00,310.00 347.77,309.90 368.54,309.10 389.31,304.80 410.08,310.00 430.85,308.10 451.62,302.70 472.39,300.90 493.16,286.20 513.93,296.30 534.70,281.80" fill="none" stroke="#00bfbf" stroke-width="0.65" stroke-dasharray="2.1 0.9"/>
<path d="M325.40 308.40L328.60 311.60M325.40 311.60L328.60 308.40" stroke="#00bfbf" stroke-width="0.75" fill="none"/>
<path d="M346.17 308.30L349.37 311.50M346.17 311.50L349.37 308.30" stroke="#00bfbf" stroke-width="0.75" fill="none"/>
<path d="M366.94 307.50L370.14 310.70M366.94 310.70L370.14 307.50" stroke="#00bfbf" stroke-width="0.75" fill="none"/>
<path d="M387.71 303.20L390.91 306.40M387.71 306.40L390.91 303.20" stroke="#00bfbf" stroke-width="0.75" fill="none"/>
<path d="M408.48 308.40L411.68 311.60M408.48 311.60L411.68 308.40" stroke="#00bfbf" stroke-width="0.75" fill="none"/>
<path d="M429.25 306.50L432.45 309.70M429.25 309.70L432.45 306.50" stroke="#00bfbf" stroke-width="0.75" fill="none"/>
<path d="M450.02 301.10L453.22 304.30M450.02 304.30L453.22 301.10" stroke="#00bfbf" stroke-width="0.75" fill="none"/>
<path d="M470.79 299.30L473.99 302.50M470.79 302.50L473.99 299.30" stroke="#00bfbf" stroke-width="0.75" fill="none"/>
<path d="M491.56 284.60L494.76 287.80M491.56 287.80L494.76 284.60" stroke="#00bfbf" stroke-width="0.75" fill="none"/>
<path d="M512.33 294.70L515.53 297.90M512.33 297.90L515.53 294.70" stroke="#00bfbf" stroke-width="0.75" fill="none"/>
<path d="M533.10 280.20L536.30 283.40M533.10 283.40L536.30 280.20" stroke="#00bfbf" stroke-width="0.75" fill="none"/>
<rect x="316.60" y="193.60" width="228.80" height="121.60" fill="none" stroke="#9a9a9a" stroke-width="0.7"/>
<line x1="327.00" y1="315.20" x2="327.00" y2="316.30" stroke="#555" stroke-width="0.5"/>
<text x="330.02" y="319.50" font-size="8.4" text-anchor="end" fill="#000" stroke="#000" stroke-width="0.08" transform="rotate(-90 330.02 319.50)">2011</text>
<line x1="347.77" y1="315.20" x2="347.77" y2="316.30" stroke="#555" stroke-width="0.5"/>
<text x="350.79" y="319.50" font-size="8.4" text-anchor="end" fill="#000" stroke="#000" stroke-width="0.08" transform="rotate(-90 350.79 319.50)">2012</text>
<line x1="368.54" y1="315.20" x2="368.54" y2="316.30" stroke="#555" stroke-width="0.5"/>
<text x="371.56" y="319.50" font-size="8.4" text-anchor="end" fill="#000" stroke="#000" stroke-width="0.08" transform="rotate(-90 371.56 319.50)">2013</text>
<line x1="389.31" y1="315.20" x2="389.31" y2="316.30" stroke="#555" stroke-width="0.5"/>
<text x="392.33" y="319.50" font-size="8.4" text-anchor="end" fill="#000" stroke="#000" stroke-width="0.08" transform="rotate(-90 392.33 319.50)">2014</text>
<line x1="410.08" y1="315.20" x2="410.08" y2="316.30" stroke="#555" stroke-width="0.5"/>
<text x="413.10" y="319.50" font-size="8.4" text-anchor="end" fill="#000" stroke="#000" stroke-width="0.08" transform="rotate(-90 413.10 319.50)">2015</text>
<line x1="430.85" y1="315.20" x2="430.85" y2="316.30" stroke="#555" stroke-width="0.5"/>
<text x="433.87" y="319.50" font-size="8.4" text-anchor="end" fill="#000" stroke="#000" stroke-width="0.08" transform="rotate(-90 433.87 319.50)">2016</text>
<line x1="451.62" y1="315.20" x2="451.62" y2="316.30" stroke="#555" stroke-width="0.5"/>
<text x="454.64" y="319.50" font-size="8.4" text-anchor="end" fill="#000" stroke="#000" stroke-width="0.08" transform="rotate(-90 454.64 319.50)">2017</text>
<line x1="472.39" y1="315.20" x2="472.39" y2="316.30" stroke="#555" stroke-width="0.5"/>
<text x="475.41" y="319.50" font-size="8.4" text-anchor="end" fill="#000" stroke="#000" stroke-width="0.08" transform="rotate(-90 475.41 319.50)">2018</text>
<line x1="493.16" y1="315.20" x2="493.16" y2="316.30" stroke="#555" stroke-width="0.5"/>
<text x="496.18" y="319.50" font-size="8.4" text-anchor="end" fill="#000" stroke="#000" stroke-width="0.08" transform="rotate(-90 496.18 319.50)">2019</text>
<line x1="513.93" y1="315.20" x2="513.93" y2="316.30" stroke="#555" stroke-width="0.5"/>
<text x="516.95" y="319.50" font-size="8.4" text-anchor="end" fill="#000" stroke="#000" stroke-width="0.08" transform="rotate(-90 516.95 319.50)">2020</text>
<line x1="534.70" y1="315.20" x2="534.70" y2="316.30" stroke="#555" stroke-width="0.5"/>
<text x="537.72" y="319.50" font-size="8.4" text-anchor="end" fill="#000" stroke="#000" stroke-width="0.08" transform="rotate(-90 537.72 319.50)">2021</text>
<line x1="315.50" y1="310.00" x2="316.60" y2="310.00" stroke="#555" stroke-width="0.5"/>
<text x="313.80" y="314.06" font-size="8.1" text-anchor="end" fill="#000" stroke="#000" stroke-width="0.08">0</text>
<line x1="315.50" y1="291.70" x2="316.60" y2="291.70" stroke="#555" stroke-width="0.5"/>
<text x="313.80" y="295.76" font-size="8.1" text-anchor="end" fill="#000" stroke="#000" stroke-width="0.08">20</text>
<line x1="315.50" y1="273.40" x2="316.60" y2="273.40" stroke="#555" stroke-width="0.5"/>
<text x="313.80" y="277.46" font-size="8.1" text-anchor="end" fill="#000" stroke="#000" stroke-width="0.08">40</text>
<line x1="315.50" y1="255.10" x2="316.60" y2="255.10" stroke="#555" stroke-width="0.5"/>
<text x="313.80" y="259.16" font-size="8.1" text-anchor="end" fill="#000" stroke="#000" stroke-width="0.08">60</text>
<line x1="315.50" y1="236.80" x2="316.60" y2="236.80" stroke="#555" stroke-width="0.5"/>
<text x="313.80" y="240.86" font-size="8.1" text-anchor="end" fill="#000" stroke="#000" stroke-width="0.08">80</text>
<line x1="315.50" y1="218.50" x2="316.60" y2="218.50" stroke="#555" stroke-width="0.5"/>
<text x="313.80" y="222.56" font-size="8.1" text-anchor="end" fill="#000" stroke="#000" stroke-width="0.08">100</text>
<line x1="315.50" y1="200.20" x2="316.60" y2="200.20" stroke="#555" stroke-width="0.5"/>
<text x="313.80" y="204.26" font-size="8.1" text-anchor="end" fill="#000" stroke="#000" stroke-width="0.08">120</text>
<text x="431.00" y="191.10" font-size="11.58" text-anchor="middle" fill="#000" stroke="#000" stroke-width="0.08">ML + Remote sensing papers</text>
<text x="431.00" y="349.60" font-size="11.4" text-anchor="middle" fill="#000" stroke="#000" stroke-width="0.08">Year</text>
<text x="295.20" y="255.90" font-size="11.4" text-anchor="middle" fill="#000" stroke="#000" stroke-width="0.08" transform="rotate(-90 295.20 255.90)">Documents</text>
<rect x="319.30" y="196.80" width="148.90" height="67.00" rx="1.5" fill="#fff" fill-opacity="0.8" stroke="#dcdcdc" stroke-width="0.7"/>
<line x1="321.80" y1="202.40" x2="340.80" y2="202.40" stroke="#ff0000" stroke-width="0.65" stroke-dasharray="2.0 0.85"/>
<circle cx="331.30" cy="202.40" r="1.90" fill="#ff0000"/>
<text x="346.00" y="204.50" font-size="6.3" text-anchor="start" fill="#000" stroke="#000" stroke-width="0.1">Remote Sensing</text>
<line x1="321.80" y1="212.70" x2="340.80" y2="212.70" stroke="#0000ff" stroke-width="0.65" stroke-dasharray="2.0 0.85"/>
<rect x="329.50" y="210.90" width="3.60" height="3.60" fill="#0000ff"/>
<text x="346.00" y="214.50" font-size="6.3" text-anchor="start" fill="#000" stroke="#000" stroke-width="0.1">Remote Sensing Of Environment</text>
<line x1="321.80" y1="227.20" x2="340.80" y2="227.20" stroke="#008000" stroke-width="0.65" stroke-dasharray="2.0 0.85"/>
<polygon points="331.30,225.20 333.30,229.20 329.30,229.20" fill="#008000"/>
<text x="346.00" y="224.00" font-size="6.3" text-anchor="start" fill="#000" stroke="#000" stroke-width="0.1">International Geoscience And Remote</text>
<text x="346.00" y="231.90" font-size="6.3" text-anchor="start" fill="#000" stroke="#000" stroke-width="0.1">Sensing Symposium IGARSS</text>
<line x1="321.80" y1="244.30" x2="340.80" y2="244.30" stroke="#bf00bf" stroke-width="0.65" stroke-dasharray="2.0 0.85"/>
<polygon points="333.30,244.30 329.30,242.30 329.30,246.30" fill="#bf00bf"/>
<text x="346.00" y="241.70" font-size="6.3" text-anchor="start" fill="#000" stroke="#000" stroke-width="0.1">International Journal Of Applied Earth</text>
<text x="346.00" y="249.60" font-size="6.3" text-anchor="start" fill="#000" stroke="#000" stroke-width="0.1">Observation And Geoinformation</text>
<line x1="321.80" y1="257.50" x2="340.80" y2="257.50" stroke="#00bfbf" stroke-width="0.65" stroke-dasharray="2.0 0.85"/>
<path d="M329.70 255.90L332.90 259.10M329.70 259.10L332.90 255.90" stroke="#00bfbf" stroke-width="0.75" fill="none"/>
<text x="346.00" y="259.60" font-size="6.3" text-anchor="start" fill="#000" stroke="#000" stroke-width="0.1">Forests</text>
<text x="132.4" y="372.9" font-size="14.4" text-anchor="middle" fill="#111" font-family="Liberation Serif, DejaVu Serif, serif" font-weight="bold">(a)</text>
<text x="415.2" y="372.9" font-size="15.2" text-anchor="middle" fill="#111" font-family="Liberation Serif, DejaVu Serif, serif" font-weight="bold">(b)</text>
</svg></body></html>
